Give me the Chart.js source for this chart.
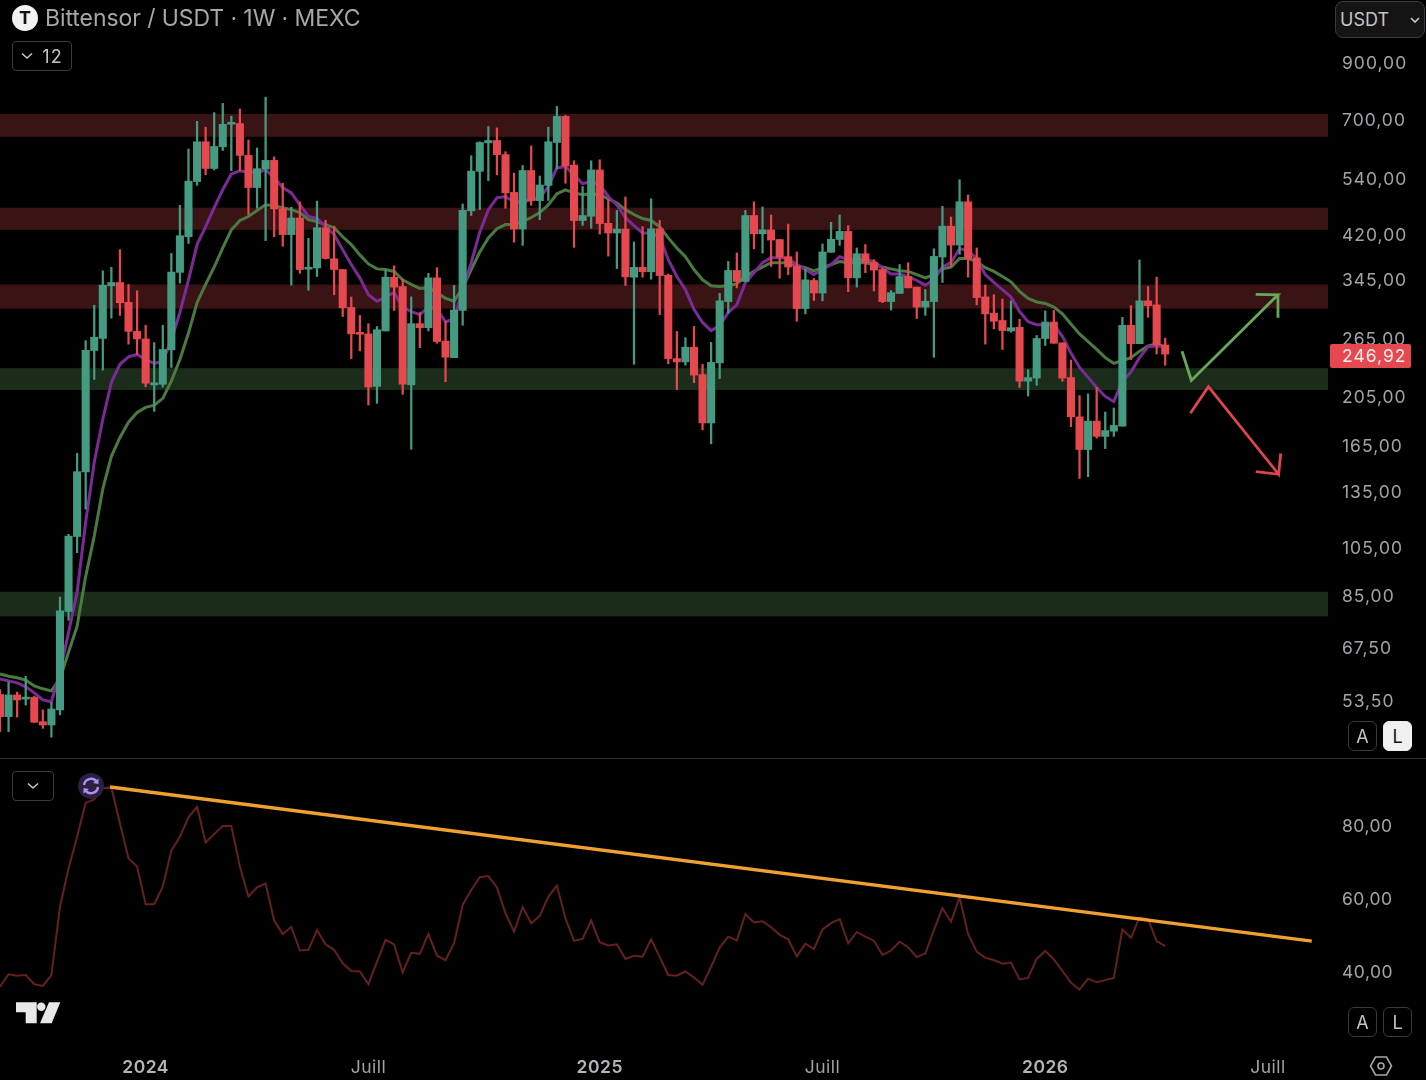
<!DOCTYPE html>
<html lang="fr">
<head>
<meta charset="utf-8">
<title>Bittensor / USDT</title>
<script src="https://cdn.jsdelivr.net/npm/chart.js@4/dist/chart.umd.min.js"></script>
<style>
    html, body { margin: 0; padding: 0; background: #000; overflow: hidden; }
    body { width: 1426px; height: 1080px; position: relative; font-family: Inter, sans-serif; color: #a6a6ab; }
    canvas { position: absolute; left: 0; display: block; }
    #priceChart { top: 0; }
    #rsiChart { top: 760px; }
    .sep { position: absolute; left: 0; top: 758px; width: 1426px; height: 1px; background: #303033; }
    .title { position: absolute; left: 45px; top: 4px; font-size: 23px; line-height: 28px; letter-spacing: -0.08px; white-space: nowrap; color: #a6a6ab; }
    .logo { position: absolute; left: 12px; top: 5px; width: 26px; height: 26px; border-radius: 50%; background: #f2f2f2; color: #111; font-size: 18px; font-weight: 700; line-height: 26px; text-align: center; }
    .btn { position: absolute; box-sizing: border-box; border: 1px solid #3a3a3d; border-radius: 4px; display: flex; align-items: center; justify-content: center; font-size: 18px; color: #c4c4c8; }
    .btn.mode { border-radius: 6px; }
    .btn.on { background: #f0f0f0; border-color: #f0f0f0; color: #111; }
    .btn svg { display: block; }
    .abs { position: absolute; }
</style>
</head>
<body>
<canvas id="priceChart"></canvas>
<canvas id="rsiChart"></canvas>
<div class="sep"></div>

<div class="logo">T</div>
<div class="title">Bittensor / USDT · 1W · MEXC</div>
<div class="btn" style="left:12px;top:41px;width:60px;height:30px;gap:9px;">
    <svg width="12" height="8" viewBox="0 0 12 8" fill="none" stroke="#c4c4c8" stroke-width="1.6"><polyline points="1,1.5 6,6 11,1.5"/></svg><span style="letter-spacing:1.2px;">12</span>
</div>
<div class="btn" style="left:1335px;top:1px;width:90px;height:37px;border-radius:8px;background:#141415;border-color:#3c3c40;justify-content:flex-start;padding-left:4px;">
    <span>USDT</span>
    <svg style="position:absolute;right:4px;top:15px;" width="10" height="7" viewBox="0 0 10 7" fill="none" stroke="#c4c4c8" stroke-width="1.6"><polyline points="1,1 5,5 9,1"/></svg>
</div>
<div class="btn mode" style="left:1348px;top:721px;width:29px;height:30px;">A</div>
<div class="btn mode on" style="left:1383px;top:721px;width:29px;height:30px;">L</div>
<div class="btn mode" style="left:1348px;top:1007px;width:29px;height:30px;">A</div>
<div class="btn mode" style="left:1383px;top:1007px;width:29px;height:30px;">L</div>
<div class="btn" style="left:12px;top:771px;width:42px;height:30px;">
    <svg width="12" height="8" viewBox="0 0 12 8" fill="none" stroke="#c4c4c8" stroke-width="1.6"><polyline points="1,1.5 6,6 11,1.5"/></svg>
</div>

<svg class="abs" style="left:78px;top:773px;" width="26" height="26" viewBox="0 0 26 26" fill="none">
    <circle cx="13" cy="13" r="13" fill="#2a2140"/>
    <path d="M6 12a7 7 0 0 1 12.5-3.4" stroke="#b28ef5" stroke-width="2.4"/>
    <path d="M20 14a7 7 0 0 1-12.5 3.4" stroke="#b28ef5" stroke-width="2.4"/>
    <polygon points="20.5,5.5 20.5,11 15,10" fill="#b28ef5"/>
    <polygon points="5.5,20.5 5.5,15 11,16" fill="#b28ef5"/>
</svg>
<svg class="abs" style="left:0;top:990px;" width="70" height="40" viewBox="0 990 70 40" fill="#e8e8e8">
    <polygon points="16,1002.3 36.7,1002.3 36.7,1023.3 25.7,1023.3 25.7,1012.3 16,1012.3"/>
    <circle cx="41.3" cy="1006.7" r="4.2"/>
    <polygon points="49,1002.3 60.3,1002.3 51.7,1023.3 40,1023.3"/>
</svg>
<svg class="abs" style="left:1368px;top:1054px;" width="26" height="24" viewBox="0 0 26 24" fill="none" stroke="#a6a6aa" stroke-width="1.6">
    <polygon points="7.5,3 18.5,3 23.5,12 18.5,21 7.5,21 2.5,12"/>
    <circle cx="13" cy="12" r="3"/>
</svg>

<script>
// weekly candles, left to right
const opens = [
    54.7, 49.6, 54.6, 53.6, 54, 48.5, 47.8, 51.1, 79, 110.1,
    146.5, 250.8, 264.6, 334, 339, 310.5, 273, 264, 215.4, 216,
    251.6, 354.5, 415, 530, 632, 561.5, 618, 683, 685, 595,
    516, 560, 582, 470, 419, 451, 359.5, 361.5, 432, 376.5,
    359, 303.5, 271.5, 270, 214, 273.5, 347, 333, 215.5, 282.5,
    277.5, 346, 261.5, 243, 299.5, 465.5, 554.5, 629, 635.5, 597,
    505, 429.5, 556.5, 487, 521, 630, 707, 570, 446, 454.5,
    558, 440.5, 422, 429.5, 347, 362.5, 355.5, 430, 350, 242,
    238.5, 254.5, 225.5, 182, 237.5, 311.5, 357.5, 340.5, 456, 420.5,
    428, 410, 380, 364, 302, 342, 323.5, 387.5, 410, 425,
    346, 385, 370.5, 359, 311.5, 323, 348, 332, 304, 311.5,
    379.5, 435, 400, 484.5, 378, 318, 296, 286.5, 273.5, 278,
    219, 222, 264.5, 284.5, 259.5, 222.5, 187, 161.8, 183.5, 171.5,
    175.5, 179.5, 280.5, 258.5, 312.5, 307, 257
];
const highs = [
    55.9, 57.8, 55.3, 59.3, 54.3, 51.1, 52.8, 84.2, 111.2, 159,
    262, 306.5, 357, 362.5, 392, 336, 326.7, 280.5, 259.8, 280.5,
    385.5, 477, 612, 692, 674, 719, 749, 708, 731, 637,
    615, 770, 591, 526, 473, 484, 412, 486, 446.5, 435,
    359, 318, 293, 282.5, 279, 358, 365, 344, 318, 296.5,
    353, 362, 285.5, 334.5, 480, 594, 632, 676, 672, 605,
    550, 569, 620.5, 543, 674, 739, 710, 581, 518.5, 581,
    583.5, 490.5, 466.5, 495, 405.5, 434, 491, 446, 352, 273,
    265.5, 279, 236, 260, 323, 372, 386.5, 466.5, 484.5, 473.5,
    457, 410, 439, 388, 360, 345, 402, 442.5, 457, 436,
    395, 401, 375, 362, 327, 367, 370, 332, 328.5, 393.5,
    475, 453, 534, 499.5, 395, 335, 321, 315, 312.5, 288,
    230.5, 268, 299, 299.5, 259.5, 240.5, 205.5, 207, 213, 191,
    194.5, 290.5, 306, 374.5, 333, 347, 265
];
const lows = [
    46.4, 46.4, 49.5, 52.2, 48.3, 47.1, 45.3, 50, 76, 102.5,
    124.3, 220.7, 230, 289.5, 293, 258, 246.5, 213.6, 191.6, 213.3,
    232.7, 338, 403, 521, 546, 558, 608, 556, 556, 458,
    471, 408, 415, 398, 335, 353, 327.5, 348, 376, 321,
    291.5, 242, 250.5, 197, 198.5, 273.5, 299.5, 206.5, 162, 254,
    273.5, 259, 218.5, 243, 280.5, 456, 468, 532, 546, 471,
    405, 399.5, 477, 447.5, 487.5, 560, 526, 396, 436.5, 431,
    420, 381, 360.5, 334.5, 236, 347, 344, 294, 236.5, 211,
    235, 217.5, 176.5, 166, 221.5, 296, 331, 340.5, 393.5, 386,
    364, 345.5, 351, 285.5, 295, 313, 312.5, 387.5, 399.5, 325.5,
    332, 354, 326.5, 310, 300, 323, 331, 289, 293, 243.5,
    339, 364, 384, 347, 307, 258, 276, 252, 272, 213,
    205, 215, 256.5, 259, 219, 179, 142.4, 143.5, 170.2, 162.5,
    171.5, 179.5, 241, 258.5, 290.5, 247, 235
];
const closes = [
    49.6, 54.6, 53.4, 54, 48.4, 47.8, 51.3, 79.2, 110.3, 146.7,
    251, 266, 335, 339, 310, 273, 264, 217, 217.4, 252,
    355, 417, 531, 632, 561.5, 619, 683, 688, 595, 516,
    561, 582, 469.5, 419, 451, 359, 362.5, 432, 377, 359,
    303, 270, 269.5, 213.5, 275, 347, 332, 216, 282.5, 277.5,
    346, 261, 243.5, 300, 466.5, 555, 630, 635.5, 597, 504,
    429.5, 556.5, 487, 522, 632, 707, 567.5, 446, 456, 558,
    440, 422, 429.5, 347.5, 362.5, 355.5, 430, 349.5, 242, 238.5,
    254.5, 225, 182, 238, 312.5, 357.5, 340.5, 456, 420.5, 428,
    409, 379, 363, 302, 343, 323.5, 388, 410.5, 425, 346,
    385, 370, 358, 311.5, 324, 348, 331, 304, 312, 380.5,
    435, 400, 484.5, 377, 317, 295, 285.5, 274, 277.5, 219,
    222.5, 264.5, 284.5, 259, 222, 187, 161.8, 183.5, 171.5, 176,
    180, 280.5, 258.5, 312.5, 306, 257, 246.92
];

const fastMa = [
    58.6, 58.1, 57.6, 56.6, 55.1, 53.4, 53, 60.4, 72, 86,
    117.4, 153, 185, 218, 236, 244, 246.5, 241, 237, 239,
    263, 297, 343, 401, 434, 472, 511, 548, 556, 552,
    551, 558, 539, 516, 504, 478, 454, 450, 434, 419,
    392, 367, 346, 321, 312, 318, 324, 304, 298, 294,
    304, 301, 285, 288, 328.5, 370, 424, 468, 493, 496,
    484, 484, 489, 493, 518, 563, 566, 546, 525, 530,
    522, 496, 478, 452, 436, 422, 422, 415, 375, 348,
    328.5, 301, 284, 274, 280, 297, 307, 339, 354, 370,
    378, 378, 377, 367, 359, 351, 359, 367, 380, 375,
    375, 375, 372, 362, 352, 352, 348, 342, 335, 343,
    363, 370, 394, 390, 377, 351, 339, 328.5, 318, 298,
    285, 281, 281, 281, 267, 248, 232.7, 222.7, 213, 204.7,
    200, 219, 228, 243, 255, 256, 255
];
const slowMa = [
    59.9, 59.3, 58.9, 58.3, 56.8, 56.1, 55.6, 58.6, 66, 74,
    92.3, 110.3, 136, 157, 170.7, 182.6, 190.7, 195, 197, 203,
    219, 241, 271, 310, 336, 363, 395, 428, 446, 454,
    466, 478, 476, 472, 468, 462, 448, 444, 438, 432,
    415, 401, 383, 368, 360, 359, 356, 343, 336, 330,
    331, 324, 316, 312, 331, 359, 388, 413, 430, 438,
    438, 444, 452, 462, 478, 502, 511, 504, 500, 502,
    500, 491, 482, 468, 458, 450, 446, 434, 413, 395,
    380, 359, 343, 334, 333, 334, 337, 348, 356, 363,
    370, 370, 370, 365, 362, 357, 362, 367, 372, 370,
    370, 370, 367, 363, 360, 357, 356, 351, 346, 351,
    360, 363, 377, 377, 372, 362, 356, 348, 340, 326,
    316, 311, 309, 304, 295, 282, 270, 261, 252, 243,
    237, 240, 243, 250, 256, 258, 255
];

const rsiValues = [
    35.7, 39.1, 38.7, 38.9, 36.4, 35.9, 38.9, 57.6, 68.1, 76.8,
    86.1, 87, 90.1, 90.3, 80.5, 70.9, 68.6, 58.3, 58.3, 63.1,
    73, 76.8, 82.1, 85, 75.2, 77.5, 79.7, 79.7, 68.6, 60.4,
    62.9, 64, 53.8, 50.1, 52.1, 45.6, 45.8, 51.2, 47.3, 45.8,
    42.1, 40, 39.9, 36.4, 42.5, 48.5, 47.3, 39.6, 45, 44.7,
    50.1, 44.2, 43, 47.6, 58.1, 62.2, 65.7, 66, 62.9, 55.8,
    50.8, 57.5, 53.1, 55.1, 60.4, 63.4, 54.4, 48.3, 48.8, 53.8,
    47.9, 47, 47.3, 43.3, 44.2, 43.9, 48.7, 43.8, 38.9, 38.7,
    39.9, 38.2, 36.2, 41.2, 46.4, 49.4, 48.4, 55.6, 53.3, 53.6,
    52, 49.9, 48.7, 44, 47.5, 46, 51.4, 53.1, 54.2, 47.6,
    50.7, 49.4, 48.3, 44.4, 45.6, 48, 46.5, 43.8, 44.8, 51.2,
    57.2, 53.5, 60.2, 50.1, 45.3, 43.6, 43, 42, 42.3, 37.7,
    38.1, 43.3, 45.5, 43.2, 40, 36.8, 34.9, 37.9, 36.9, 37.5,
    38.1, 51.4, 49.1, 54.7, 54.2, 48.2, 46.8
];

// horizontal zones [low, high]
const redZones = [[646, 715], [428, 472], [302, 336]];
const greenZones = [[210.6, 232], [77.3, 86.2]];

// drawn lines, x is the candle index
const upArrowX = [137.96, 139.05, 149.16, 146.56, 149.16, 149.16];
const upArrowY = [250, 219.7, 321, 321.5, 321, 290];
const downArrowX = [138.94, 141.04, 149.24, 149.48, 149.24, 146.56];
const downArrowY = [190, 213.7, 145, 159, 145, 146.8];
const trendX = [12.84, 153.1];
const trendY = [90.4, 48.2];

const priceTicks = [900, 700, 540, 420, 345, 265, 205, 165, 135, 105, 85, 67.5, 53.5];
const rsiTicks = [80, 60, 40];
const timeTicks = [17, 43, 70, 96, 122, 148];
const timeLabels = ['2024', 'Juill', '2025', 'Juill', '2026', 'Juill'];

const GREEN = '#459a82';
const RED = '#e5484f';
const AXIS_COLOR = '#a3a3a8';
const AXIS_FONT = { family: 'Inter', size: 17.5 };

const points = (xs, ys) => xs.map((x, i) => ({ x, y: ys[i] }));
const indexed = ys => ys.map((y, i) => ({ x: i, y }));
const frFormat = v => v.toFixed(2).replace('.', ',');
const candleColors = opens.map((o, i) => closes[i] >= o ? GREEN : RED);

function noPadding(scale) {
    scale.paddingTop = 0;
    scale.paddingBottom = 0;
    scale.paddingLeft = 0;
    scale.paddingRight = 0;
}

function valueAxis(ticks, extra) {
    return {
        position: 'right',
        grid: { display: false, drawTicks: false },
        border: { display: false },
        ticks: { autoSkip: false, padding: 14, labelOffset: 2, color: AXIS_COLOR, font: AXIS_FONT, callback: frFormat },
        afterBuildTicks: s => { s.ticks = ticks.map(value => ({ value })); },
        afterFit: s => { s.width = 98; noPadding(s); },
        ...extra
    };
}

function lineSet(data, color, width, order) {
    return { type: 'line', data, borderColor: color, borderWidth: width, pointRadius: 0, tension: 0, order };
}

function spacingPlugin(px) {
    return {
        id: 'spacing',
        beforeDraw(chart) { chart.ctx.letterSpacing = px + 'px'; }
    };
}

const zonePlugin = {
    id: 'zones',
    beforeDatasetsDraw(chart) {
        const { ctx, chartArea, scales } = chart;
        const fillZone = (zone, color) => {
            const top = scales.y.getPixelForValue(zone[1]);
            const bottom = scales.y.getPixelForValue(zone[0]);
            ctx.fillStyle = color;
            ctx.fillRect(chartArea.left, top, chartArea.right - chartArea.left, bottom - top);
        };
        redZones.forEach(z => fillZone(z, '#3a1415'));
        greenZones.forEach(z => fillZone(z, '#1c2c1a'));
    }
};

const lastPricePlugin = {
    id: 'lastPrice',
    afterDraw(chart) {
        const { ctx, scales } = chart;
        const last = closes[closes.length - 1];
        const y = scales.y.getPixelForValue(last) + 2;
        ctx.save();
        ctx.fillStyle = RED;
        ctx.beginPath();
        ctx.roundRect(1330, y - 12, 81, 24, 2);
        ctx.fill();
        ctx.fillStyle = '#f7eeee';
        ctx.font = '17.5px Inter';
        ctx.textBaseline = 'middle';
        ctx.fillText(frFormat(last), 1342, y + 1);
        ctx.restore();
    }
};

function sizeCanvas(id, height) {
    const canvas = document.getElementById(id);
    canvas.style.width = '1426px';
    canvas.style.height = height + 'px';
    canvas.width = 1426;
    canvas.height = height;
    return canvas.getContext('2d');
}

new Chart(sizeCanvas('priceChart', 758), {
    type: 'bar',
    data: {
        datasets: [
            {
                data: indexed(opens.map((o, i) => [o, closes[i]])),
                backgroundColor: candleColors,
                barThickness: 7.4,
                minBarLength: 2,
                grouped: false,
                order: 1
            },
            {
                data: indexed(lows.map((l, i) => [l, highs[i]])),
                backgroundColor: candleColors,
                barThickness: 1.6,
                grouped: false,
                order: 2
            },
            lineSet(indexed(fastMa), '#7c2a96', 3, 3),
            lineSet(indexed(slowMa), '#4b7a40', 3, 4),
            lineSet(points(upArrowX, upArrowY), '#68a957', 2.8, 0),
            lineSet(points(downArrowX, downArrowY), '#e0454d', 2.8, 0)
        ]
    },
    options: {
        responsive: false,
        animation: false,
        layout: { padding: 0 },
        plugins: { legend: { display: false }, tooltip: { enabled: false } },
        scales: {
            x: { type: 'linear', min: 0, max: 155, offset: false, display: false },
            y: valueAxis(priceTicks, { type: 'logarithmic', min: 41.3, max: 1183.8, bounds: 'data' })
        }
    },
    plugins: [spacingPlugin(1), zonePlugin, lastPricePlugin]
});

new Chart(sizeCanvas('rsiChart', 320), {
    type: 'line',
    data: {
        datasets: [
            lineSet(indexed(rsiValues), '#66201f', 2, 2),
            lineSet(points(trendX, trendY), '#f0a030', 3.4, 1)
        ]
    },
    options: {
        responsive: false,
        animation: false,
        layout: { padding: 0 },
        plugins: { legend: { display: false }, tooltip: { enabled: false } },
        scales: {
            x: {
                type: 'linear',
                min: 0,
                max: 155,
                grid: { display: false, drawTicks: false },
                border: { display: false },
                ticks: {
                    autoSkip: false,
                    maxRotation: 0,
                    padding: 9,
                    color: ctx => timeLabels[ctx.index] === 'Juill' ? AXIS_COLOR : '#b4b4b8',
                    font: ctx => ({ ...AXIS_FONT, weight: timeLabels[ctx.index] === 'Juill' ? 400 : 600 }),
                    callback: v => timeLabels[timeTicks.indexOf(v)]
                },
                afterBuildTicks: s => { s.ticks = timeTicks.map(value => ({ value })); },
                afterFit: s => { s.height = 32; noPadding(s); }
            },
            y: valueAxis(rsiTicks, { min: 18.9, max: 97.81 })
        }
    },
    plugins: [spacingPlugin(0.5)]
});
</script>
</body>
</html>
